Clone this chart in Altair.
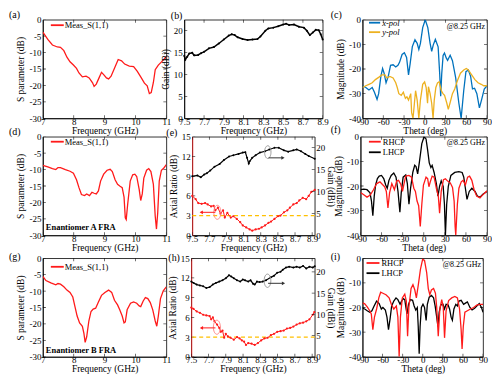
import altair as alt
import pandas as pd

FONT = "Liberation Serif, Times New Roman, serif"
RED = "#ff1a1a"
BLUE = "#0072BD"
ORANGE = "#EDB120"
DASH = "#FFC000"
ELLIPSE = "M0,-1 A0.5,1 0 1,1 0,1 A0.5,1 0 1,1 0,-1 Z"

# ---------------- data ----------------
# (a) S11 measured
A_F = [7.0,7.16,7.31,7.47,7.57,7.68,7.78,7.88,7.99,8.09,8.17,8.28,8.40,8.50,8.61,8.66,8.73,8.82,8.90,8.97,
       9.06,9.13,9.21,9.32,9.44,9.55,9.65,9.80,9.94,10.06,10.19,10.29,10.38,10.45,10.51,10.58,10.64,10.74,10.90,11.0]
A_S = [-3.8,-6.0,-7.7,-8.3,-8.4,-9.4,-11.4,-12.8,-13.8,-14.8,-16.2,-17.4,-17.2,-17.7,-19.2,-20.3,-19.6,-17.7,-16.0,-16.7,
       -17.7,-18.0,-17.2,-14.8,-12.1,-12.5,-13.5,-14.1,-14.3,-15.7,-17.7,-19.3,-20.1,-22.5,-22.2,-19.1,-15.2,-13.8,-12.3,-11.2]

# (b) gain
B_F = [7.50,7.51,7.53,7.55,7.58,7.60,7.64,7.67,7.70,7.75,7.80,7.85,7.90,7.95,7.98,8.01,8.04,8.09,8.14,8.19,
       8.24,8.27,8.32,8.35,8.40,8.45,8.50,8.53,8.56,8.61,8.66,8.71,8.74,8.77,8.80,8.83,8.86,8.88,8.90]
B_G = [14.2,13.3,14.0,14.7,14.9,14.3,14.4,14.8,15.1,15.9,16.2,17.0,17.9,18.8,19.1,18.9,18.4,18.0,17.8,17.9,
       18.0,18.6,19.9,20.4,20.6,20.9,21.3,21.5,21.2,21.3,20.8,20.6,19.9,18.9,19.5,20.1,20.0,19.1,17.9]

# (c) radiation pattern x-pol / y-pol
CX_T = [-90,-85.3,-80.7,-76,-72.8,-69,-66.7,-63.5,-61,-58.8,-56,-52.8,-49.5,-45.8,-42,-38.8,-36.5,-32.8,-29.5,-26.3,
        -23.5,-21.2,-18,-14.2,-11,-8.6,-6.3,-3,0.7,4.4,7.7,10,12.3,15.3,19.3,21.6,23,24.5,26.5,28.5,
        31,33,36.7,40,44.7,49.3,52.6,56.3,59.5,63,66.3,69,72,75.3,79,82,86,90]
CX_V = [-26.8,-27.5,-28.5,-27.5,-29.4,-32.3,-30,-23,-19.8,-21.7,-25.6,-23,-18.5,-18.3,-19.2,-18.5,-17.3,-14.1,-13.4,-15.3,
        -22.4,-17.9,-10.9,-8.1,-9.6,-12.1,-9.6,-3.2,0,-3.2,-9.6,-12.8,-10.2,-8.0,-11,-22,-31,-22,-14.5,-13.5,
        -15.5,-16.5,-14.4,-16.6,-23.6,-33.9,-40,-28.8,-21.1,-20.4,-23,-28.1,-27.8,-30,-35.8,-32.6,-28.1,-26.8]
CY_T = [-90,-85.3,-80.7,-76,-71.4,-66.7,-62,-57.5,-55,-50.5,-45.8,-42,-39.8,-37.5,-34,-31,-28,-25.8,-23.5,-20.3,
        -19,-17,-15,-13.3,-11,-8.6,-6.3,-3,-0.2,2,4,5.3,7.7,10,12,13.7,16,18.4,20.7,24,
        26.3,28.6,31.9,34,36.7,40,43.3,47,51.6,56.3,60,63,67.8,72.5,77,81.6,85.3,90]
CY_V = [-27.5,-26.8,-26.2,-25.6,-24.3,-23.4,-22.4,-22.4,-23.6,-23,-23.6,-25.6,-27.5,-30,-30.7,-29.4,-31.9,-31.3,-32.6,-30,
        -37.7,-40,-33.9,-28.8,-32.6,-40,-32.6,-26.2,-25.2,-27.5,-33.9,-27.2,-30,-33.9,-40,-32.6,-27.5,-25.6,-25.2,-28.8,
        -30,-30.7,-33.9,-36.4,-33.6,-30,-28.1,-24.9,-21.7,-20.4,-19.8,-20.4,-22.4,-24.3,-25.6,-26.2,-26.8,-26.8]

# (d) S11 enantiomer A
D_F = [7.0,7.16,7.31,7.42,7.49,7.57,7.73,7.88,7.99,8.09,8.17,8.25,8.35,8.42,8.51,8.59,8.66,8.73,8.80,8.87,
       8.97,9.08,9.18,9.25,9.34,9.42,9.49,9.57,9.63,9.67,9.70,9.75,9.83,9.91,9.98,10.04,10.12,10.17,10.22,10.27,
       10.36,10.43,10.50,10.58,10.64,10.68,10.72,10.77,10.84,10.92,11.0]
D_S = [-8.7,-9.2,-9.7,-10.0,-9.4,-9.4,-10.0,-10.5,-11.1,-13.1,-15.5,-17.6,-17.9,-17.4,-17.9,-16.9,-17.2,-17.4,-16.5,-13.5,
       -11.4,-10.2,-9.9,-10.6,-13.1,-14.5,-15.0,-15.5,-18.4,-24.7,-25.2,-20.3,-13.5,-11.6,-11.4,-12.1,-16.0,-19.4,-17.4,-12.6,
       -10.2,-9.7,-10.6,-14.5,-24.2,-28.1,-23.2,-13.5,-10.2,-9.5,-8.5]

# (e) axial ratio + gain, enantiomer A
E_GF = [7.50,7.56,7.60,7.64,7.67,7.71,7.76,7.82,7.87,7.93,7.98,8.04,8.09,8.12,8.14,8.16,8.17,8.20,8.24,8.29,
        8.35,8.40,8.46,8.51,8.57,8.62,8.68,8.72,8.77,8.82,8.86,8.93]
E_G = [13.4,13.6,13.2,13.8,14.1,14.7,15.6,16.2,17.1,17.9,18.2,18.5,18.8,18.9,17.6,16.3,16.8,17.6,18.2,18.8,
       19.1,19.5,19.9,19.9,19.3,19.0,19.3,19.5,19.1,18.5,18.0,17.4]
E_AF = [7.50,7.54,7.57,7.61,7.65,7.68,7.72,7.75,7.77,7.80,7.83,7.86,7.88,7.91,7.95,7.98,8.02,8.06,8.09,8.13,
        8.17,8.20,8.24,8.28,8.31,8.35,8.39,8.42,8.46,8.50,8.53,8.57,8.61,8.64,8.68,8.72,8.75,8.79,8.83,8.86,8.89,8.93]
E_AR = [6.0,5.5,4.9,4.8,4.9,4.7,4.4,4.5,3.8,4.2,3.3,3.8,2.7,3.4,2.7,2.9,2.5,2.0,1.5,1.2,
        0.9,0.7,0.9,1.0,1.2,1.5,1.9,2.1,2.5,2.9,3.0,3.5,3.8,4.2,4.7,4.9,5.3,5.7,5.5,6.0,6.6,6.9]

# (f) RHCP / LHCP, enantiomer A
FL_T = [-90,-85.4,-80.8,-76.5,-74.5,-72.5,-70.5,-68.5,-66,-63.4,-60.2,-57,-54.2,-52,-49.6,-46.4,-42.7,-39.5,-36.7,-34,
        -32.1,-29.4,-25.7,-23.4,-21.1,-18.8,-15.6,-12.9,-11,-8.7,-6.4,-2.8,0.4,3.2,5.5,7.8,10.1,11.9,14.7,17.9,
        20.2,22.5,24.8,27.6,29.4,30.8,32.6,34.9,38.6,44.1,50,54.6,56.9,59.2,61.5,64.7,68.4,73,76.2,79.9,84.5,90]
FL_V = [-21.5,-21.3,-21.5,-22.8,-26,-32,-24,-19.5,-17,-16,-15.7,-17,-19.6,-20.9,-17.7,-15.7,-14.7,-16.4,-22.2,-30.6,
        -22.8,-16.4,-15.5,-19,-27.4,-20.9,-14.4,-11.6,-12.1,-15.1,-10.6,-2.8,0,-0.9,-5.4,-10.6,-12.5,-11.6,-14.5,-19,
        -24.1,-20.1,-17.9,-20.1,-27.4,-40,-27.4,-20.1,-15.7,-14.5,-14.2,-14.5,-16.4,-20.9,-25.4,-22.2,-20.9,-22.2,-24.1,-24.5,-23.2,-22.2]
FR_T = [-90,-85.4,-80.8,-76.2,-71.6,-67,-62.4,-58.8,-55.6,-53.3,-51,-48.7,-45.5,-41.8,-38.6,-35.9,-32.6,-30.3,-28.1,-25.7,
        -21.1,-17.4,-14.2,-11.9,-9.6,-7.3,-5,-2.8,-0.5,3.2,5.5,7.3,9.2,11.9,14.7,17.9,20.7,22.5,24.8,28,
        30.8,34,37.7,40.9,43.2,44.6,45.5,47.8,50,53.3,56,59.2,62.4,65.2,68.4,71.6,75.3,79.9,83.6,86.8,90]
FR_V = [-22.6,-23.5,-24.5,-23.7,-21.5,-19,-18.3,-19.4,-20.3,-22.2,-28.9,-22.8,-19,-21.5,-18,-17.7,-19.4,-22.2,-19,-16,
        -15.7,-16.4,-20.9,-22.2,-26.1,-28,-36.4,-27.4,-19.6,-16.4,-17,-20.3,-18.3,-16,-16.4,-20.9,-24.1,-31,-22.2,-17.4,
        -17.1,-18,-18.7,-20.6,-26.1,-36.4,-40,-27.4,-20.9,-18.3,-17.7,-19.6,-16.4,-16,-17.7,-21.5,-24.1,-24.8,-23.7,-22.8,-21.9]

# (g) S11 enantiomer B
G_F = [7.0,7.10,7.26,7.42,7.49,7.57,7.68,7.78,7.88,7.97,8.04,8.11,8.19,8.28,8.33,8.37,8.42,8.49,8.56,8.63,
       8.71,8.80,8.90,9.01,9.13,9.23,9.32,9.42,9.49,9.57,9.63,9.67,9.73,9.84,9.94,10.04,10.12,10.17,10.25,10.32,
       10.40,10.48,10.56,10.64,10.69,10.74,10.81,10.90,11.0]
G_S = [-5.5,-6.8,-7.5,-8.1,-7.7,-7.9,-8.7,-9.7,-10.4,-11.8,-14.7,-17.6,-19.7,-20.7,-22.9,-25.6,-23.9,-19.1,-16.2,-15.5,
       -15.2,-13.3,-11.3,-10.4,-9.7,-10.4,-12.8,-14.2,-15.7,-17.6,-19.7,-19.4,-15.7,-13.7,-13.3,-13.7,-14.5,-14.7,-13.0,-12.0,
       -12.3,-13.5,-15.7,-19.1,-20.7,-17.6,-12.3,-9.9,-8.7]

# (h) axial ratio + gain, enantiomer B
H_GF = [7.50,7.526,7.563,7.60,7.638,7.675,7.713,7.75,7.787,7.825,7.862,7.90,7.937,7.963,7.993,8.03,8.067,8.097,8.123,8.16,
        8.187,8.216,8.235,8.261,8.291,8.328,8.366,8.422,8.459,8.496,8.534,8.56,8.597,8.634,8.683,8.72,8.757,8.795,8.832,8.869,8.907,8.93]
H_G = [17.7,17.4,17.0,16.8,16.6,16.2,16.4,17.0,17.4,17.7,18.0,18.5,19.2,18.9,18.5,18.0,17.7,18.2,18.0,17.7,
       18.0,17.2,17.0,17.7,17.6,17.7,18.0,18.7,19.1,19.8,20.0,20.5,21.0,21.2,21.0,21.2,21.0,21.4,20.8,21.2,21.0,21.3]
H_AF = [7.50,7.526,7.563,7.60,7.638,7.675,7.713,7.731,7.75,7.769,7.799,7.825,7.843,7.862,7.881,7.90,7.925,7.955,7.993,8.03,
        8.06,8.086,8.112,8.134,8.16,8.198,8.235,8.272,8.31,8.347,8.384,8.422,8.459,8.496,8.534,8.571,8.608,8.646,8.683,8.72,
        8.757,8.795,8.832,8.869,8.907,8.925]
H_AR = [7.5,7.3,6.9,6.7,6.4,6.3,6.2,5.7,6.0,5.4,4.9,4.4,3.8,4.0,2.9,3.5,3.1,2.9,2.6,3.0,
        2.8,2.5,2.3,1.8,2.1,2.0,1.8,2.1,2.5,2.8,2.9,3.3,3.5,3.8,3.9,4.0,4.3,4.4,4.6,4.9,
        5.1,5.2,5.4,5.7,6.4,6.8]

# (i) RHCP / LHCP, enantiomer B
IR_T = [-90,-86.7,-83,-79.2,-76.9,-74.6,-72.2,-69,-65.7,-62.9,-59.6,-55,-50.3,-47,-43.3,-39.5,-37.2,-35.3,-33.4,-30.6,
        -26.9,-24.6,-22.7,-20.8,-17.5,-14.7,-11.9,-9.6,-6.8,-3.5,-0.2,2.6,5.8,8.2,10.5,12.9,16.1,18.9,20.8,23.1,
        25.5,28.3,30.6,32.5,34.8,38.6,43.2,47.9,51.7,54.9,57.3,58.7,60.5,62.9,66.6,71.3,76,80.6,85.3,90]
IR_V = [-18.1,-18.5,-19.7,-21.3,-22.6,-29,-23.9,-20.6,-16.1,-13.8,-14.2,-14.8,-16.1,-18.7,-20.6,-19.4,-23.9,-40,-23.9,-16.1,
        -14.6,-17.4,-31.6,-20,-12.3,-10.7,-12.9,-16.1,-11,-4.5,-0.4,-0.9,-5.8,-12.3,-14.8,-12.9,-12.3,-14.2,-20,-31.6,
        -20.6,-16.8,-20,-32.3,-21.3,-17.2,-16.1,-15.5,-16.1,-20.6,-29,-36.8,-27.7,-21.9,-21.3,-20.6,-20,-19,-18.7,-18.7]
IL_T = [-90,-86.7,-83,-79.2,-76,-72.7,-69,-65.2,-61.9,-59.6,-55.9,-53.5,-51.2,-48.8,-46.5,-43.3,-40,-37.2,-33.9,-31.6,
        -29.2,-26.9,-25.5,-23.6,-21.3,-18.5,-15.2,-12.9,-10.5,-8.2,-6.8,-5.4,-4,-2.1,0.3,2.6,5,6.8,9.6,12.9,
        16.1,18.5,20.8,22.7,24.5,26.9,30.2,32.5,34.8,37.7,40,42.3,44.2,46.5,49.3,51.7,54,57.3,61,64.3,
        66.6,70.4,73.6,77.4,80.6,84.4,87.7,90]
IL_V = [-20.3,-20.6,-21.3,-21.9,-21.3,-19.4,-17.4,-18.4,-20.6,-20,-21,-23.9,-29,-24.5,-19.4,-17.4,-16.1,-16.8,-18.7,-17.4,
        -16.4,-16.8,-19.4,-22.6,-18.7,-16.8,-17.1,-19.4,-21,-20,-27.7,-38.7,-27.7,-20,-18.7,-20,-25.2,-18.7,-15.8,-15.1,
        -16.1,-19.4,-23.9,-27.7,-21.9,-18.9,-18.7,-20.6,-18.7,-18.9,-20.6,-23.9,-25.2,-20.6,-18.7,-19.4,-17.4,-17.1,-18.7,-18.1,
        -17.7,-20,-21,-20.3,-19.4,-18.4,-20,-21.9]

FREQ_TICKS_S = [7, 8, 9, 10, 11]
FREQ_TICKS_G = [7.5, 7.7, 7.9, 8.1, 8.3, 8.5, 8.7, 8.9]
S_TICKS = [-30, -25, -20, -15, -10, -5, 0]
THETA_TICKS = [-90, -60, -30, 0, 30, 60, 90]
MAG_TICKS = [-40, -30, -20, -10, 0]
GAIN_TICKS = [0, 5, 10, 15, 20]
AR_TICKS = [0, 3, 6, 9, 12, 15]

LBL = "'' + datum.value"


# ---------------- helpers ----------------
def frame(xs, ys, **extra):
    n = min(len(xs), len(ys))
    d = {"x": list(xs[:n]), "y": list(ys[:n])}
    d.update(extra)
    return pd.DataFrame(d)


def label(s, x, y, size=10.0, align="left", weight="normal", style="normal", color="black"):
    return alt.Chart(pd.DataFrame({"t": [s]})).mark_text(
        text=s, font=FONT, fontSize=size, align=align, baseline="middle",
        fontWeight=weight, fontStyle=style, color=color,
    ).encode(x=alt.value(x), y=alt.value(y))


def legend_line(color, x1, x2, y, width=1.8):
    return alt.Chart(pd.DataFrame({"t": [0]})).mark_rule(color=color, strokeWidth=width).encode(
        x=alt.value(x1), x2=alt.value(x2), y=alt.value(y))


def xenc(domain, values, title):
    return alt.X("x:Q", scale=alt.Scale(domain=domain, nice=False, zero=False),
                 axis=alt.Axis(values=values, title=title, labelExpr=LBL))


def yenc(domain, values, title, **ax):
    return alt.Y("y:Q", scale=alt.Scale(domain=domain, nice=False, zero=False),
                 axis=alt.Axis(values=values, title=title, labelExpr=LBL, **ax))


def xticks(X, values, h):
    """inward ticks on the bottom and top edges (half of each tick is clipped away)"""
    df = pd.DataFrame({"x": values})
    out = []
    for yy in (0, h):
        out.append(alt.Chart(df).mark_tick(orient="vertical", size=6, thickness=0.8, color="black",
                                           clip=True).encode(x=X, y=alt.value(yy)))
    return out


def yticks(Y, values, xs):
    df = pd.DataFrame({"y": values})
    return [alt.Chart(df).mark_tick(orient="horizontal", size=6, thickness=0.8, color="black",
                                    clip=True).encode(y=Y, x=alt.value(xx)) for xx in xs]


def s11_panel(F, S, w, h, tag, tag_xy, leg_y, enant=None, enant_y=None):
    X = xenc([7, 11], FREQ_TICKS_S, "Frequency (GHz)")
    Y = yenc([-30, 0], S_TICKS, "S parameter (dB)")
    line = alt.Chart(frame(F, S)).mark_line(color=RED, strokeWidth=1.3, clip=True).encode(x=X, y=Y)
    layers = xticks(X, FREQ_TICKS_S, h) + yticks(Y, S_TICKS, (0, w)) + [
        line, legend_line(RED, 8, 21, leg_y), label("Meas_S(1,1)", 22, leg_y, size=8.5),
        label(tag, tag_xy[0], tag_xy[1])]
    if enant:
        layers.append(label(enant, 3, enant_y, size=8.5, weight="bold"))
    return alt.layer(*layers).properties(width=w, height=h)


def gain_panel(F, G, w, h, tag, tag_xy):
    X = xenc([7.5, 8.9], FREQ_TICKS_G, "Frequency (GHz)")
    Y = yenc([0, 22.4], GAIN_TICKS, "Gain (dBi)")
    line = alt.Chart(frame(F, G)).mark_line(
        color="black", strokeWidth=1.5,
        point=alt.OverlayMarkDef(color="black", size=4, filled=True)).encode(x=X, y=Y)
    layers = xticks(X, FREQ_TICKS_G, h) + yticks(Y, GAIN_TICKS, (0, w)) + [
        line, label(tag, tag_xy[0], tag_xy[1])]
    return alt.layer(*layers).properties(width=w, height=h)


def pattern_panel(series, legend, w, h, tag, tag_xy, note_y):
    X = xenc([-90, 90], THETA_TICKS, "Theta (deg)")
    Y = yenc([-40, 0], MAG_TICKS, "Magnitude (dB)")
    layers = xticks(X, THETA_TICKS, h) + yticks(Y, MAG_TICKS, (0, w))
    for T, V, color in series:
        layers.append(alt.Chart(frame(T, V)).mark_line(color=color, strokeWidth=1.3, clip=True).encode(x=X, y=Y))
    for name, color, x1, x2, ly, italic in legend:
        layers.append(legend_line(color, x1, x2, ly))
        layers.append(label(name, x2 + 2, ly, size=8.5, style="italic" if italic else "normal"))
    layers.append(label("@8.25 GHz", w - 2, note_y, size=8, align="right"))
    layers.append(label(tag, tag_xy[0], tag_xy[1]))
    return alt.layer(*layers).properties(width=w, height=h)


def ar_panel(AF, AR, GF, G, w, h, tag, tag_xy, gdom, ann):
    X = xenc([7.5, 8.93], FREQ_TICKS_G, "Frequency (GHz)")
    YA = yenc([0, 15], AR_TICKS, "Axial Ratio (dB)", domainColor=RED)
    YG = yenc(gdom, GAIN_TICKS, "Gain (dBi)", orient="right", domainColor="#8c8c8c",
              labelPadding=1, titlePadding=1)
    (rex, rey, rsz, rax1, rax2, ray), (bex, bey, bsz, bax1, bax2, bay) = ann

    dash = alt.Chart(pd.DataFrame({"y": [3]})).mark_rule(
        color=DASH, strokeDash=[4, 3], strokeWidth=1.3).encode(y=YA)
    ar = alt.Chart(frame(AF, AR)).mark_line(
        color=RED, strokeWidth=1.0,
        point=alt.OverlayMarkDef(color=RED, size=5, filled=True)).encode(x=X, y=YA)
    r_ell = alt.Chart(frame([rex], [rey])).mark_point(
        shape=ELLIPSE, size=rsz, filled=False, color="#ff8080", strokeWidth=0.9, opacity=1).encode(x=X, y=YA)
    r_arr = alt.Chart(frame([rax1], [ray], x2=[rax2])).mark_rule(color=RED, strokeWidth=1.0).encode(
        x=X, x2="x2:Q", y=YA)
    r_head = alt.Chart(frame([rax2], [ray])).mark_point(
        shape="triangle-left", size=14, filled=True, color=RED, opacity=1).encode(x=X, y=YA)
    left = alt.layer(*(xticks(X, FREQ_TICKS_G, h) + yticks(YA, AR_TICKS, (0,)) +
                       [dash, ar, r_ell, r_arr, r_head]))

    gl = alt.Chart(frame(GF, G)).mark_line(
        color="black", strokeWidth=1.2,
        point=alt.OverlayMarkDef(color="black", size=4, filled=True)).encode(x=X, y=YG)
    b_ell = alt.Chart(frame([bex], [bey])).mark_point(
        shape=ELLIPSE, size=bsz, filled=False, color="#909090", strokeWidth=0.9, opacity=1).encode(x=X, y=YG)
    b_arr = alt.Chart(frame([bax1], [bay], x2=[bax2])).mark_rule(color="#333333", strokeWidth=1.0).encode(
        x=X, x2="x2:Q", y=YG)
    b_head = alt.Chart(frame([bax2], [bay])).mark_point(
        shape="triangle-right", size=14, filled=True, color="#333333", opacity=1).encode(x=X, y=YG)
    right = alt.layer(*(yticks(YG, GAIN_TICKS, (w,)) + [gl, b_ell, b_arr, b_head]))

    return alt.layer(left, right, label(tag, tag_xy[0], tag_xy[1])).resolve_scale(
        y="independent").properties(width=w, height=h)


def spacer(w, h):
    return alt.Chart(pd.DataFrame({"t": [0]})).mark_point(opacity=0).encode(
        x=alt.value(0), y=alt.value(0)).properties(
        width=w, height=h, view=alt.ViewBackground(stroke="transparent"))


# ---------------- panels ----------------
H = 99
pa = s11_panel(A_F, A_S, 124, H, "(a)", (-34, -5), 5.5)
pb = gain_panel(B_F, B_G, 139, H, "(b)", (-13.5, -4))
pc = pattern_panel([(CX_T, CX_V, BLUE), (CY_T, CY_V, ORANGE)],
                   [("x-pol", BLUE, 6.5, 17.7, 3, True), ("y-pol", ORANGE, 6.5, 17.7, 12.5, True)],
                   125, H, "(c)", (-32, -5), 7)

pd_ = s11_panel(D_F, D_S, 124, H, "(d)", (-34, -5), 5, "Enantiomer A FRA", 91)
pe = ar_panel(E_AF, E_AR, E_GF, E_G, 123, H, "(e)", (-26, -4), [0, 22.4],
              ((7.793, 3.5, 200, 7.77, 7.605, 3.5), (8.382, 18.9, 164, 8.39, 8.559, 17.6)))
pf = pattern_panel([(FL_T, FL_V, "black"), (FR_T, FR_V, RED)],
                   [("RHCP", RED, 8.4, 20.3, 5, False), ("LHCP", "black", 8.4, 20.3, 15.6, False)],
                   127, H, "(f)", (-30, -6.5), 6)

pg = s11_panel(G_F, G_S, 124, H, "(g)", (-34, -1), 8.6, "Enantiomer B FRA", 92.5)
ph = ar_panel(H_AF, H_AR, H_GF, H_G, 124, H, "(h)", (-23, 0), [0, 23.2],
              ((7.797, 4.5, 200, 7.78, 7.618, 4.4), (8.383, 17.9, 180, 8.39, 8.568, 17.3)))
pi = pattern_panel([(IL_T, IL_V, "black"), (IR_T, IR_V, RED)],
                   [("RHCP", RED, 4, 17, 4.8, False), ("LHCP", "black", 4, 17, 15, False)],
                   121, H, "(i)", (-32, -1), 6.4)

row1 = alt.hconcat(pa, spacer(17.4, H), pb, spacer(39.4, H), pc, spacing=0, bounds="flush")
row2 = alt.hconcat(pd_, spacer(25.2, H), pe, spacer(45.5, H), pf, spacing=0, bounds="flush")
row3 = alt.hconcat(pg, spacer(24.2, H), ph, spacer(47.4, H), pi, spacing=0, bounds="flush")

chart = alt.vconcat(
    row1, row2, spacer(1, 5), row3, spacing=-10.5
).properties(
    padding={"left": 0, "top": 0, "right": 0, "bottom": 0}, background="white"
).configure_view(
    stroke="black", strokeWidth=0.8
).configure_axis(
    labelFont=FONT, titleFont=FONT, labelFontSize=9, titleFontSize=9.5, titleFontWeight="normal",
    labelColor="black", titleColor="black", domainColor="black", domainWidth=0.8,
    ticks=False, grid=False, labelFlush=False, labelOverlap=False,
).configure_axisX(
    labelPadding=-1, titlePadding=-1
).configure_axisY(
    labelPadding=2, titlePadding=3
)

chart.save("out.html", embed_options={"renderer": "svg", "actions": False})
